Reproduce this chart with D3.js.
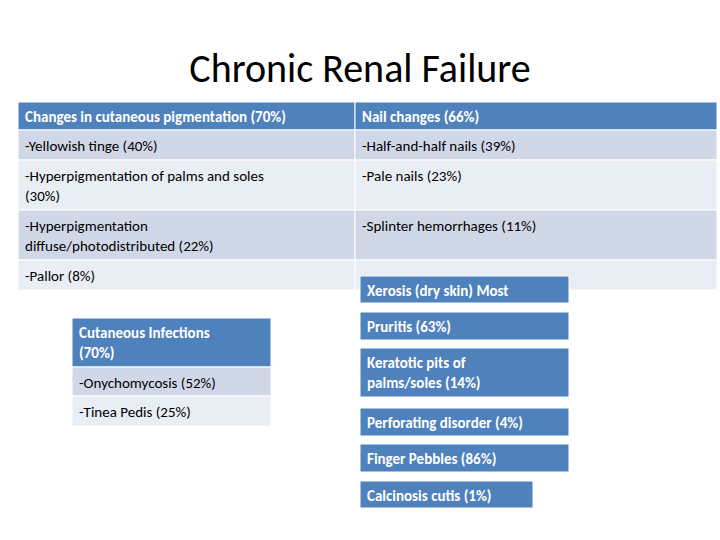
<!DOCTYPE html>
<html><head><meta charset="utf-8">
<script src="https://cdn.jsdelivr.net/npm/d3@7"></script>
<style>body{margin:0;background:#fff}</style>
</head><body>
<svg id="slide" width="720" height="540"></svg>
<script>
// slide content
const title = "Chronic Renal Failure";
const mainHeaders = ["Changes in cutaneous pigmentation (70%)", "Nail changes (66%)"];
const pigmentRows = [["-Yellowish tinge (40%)"], ["-Hyperpigmentation of palms and soles", "(30%)"], ["-Hyperpigmentation", "diffuse/photodistributed (22%)"], ["-Pallor (8%)"]];
const nailRows = [["-Half-and-half nails (39%)"], ["-Pale nails (23%)"], ["-Splinter hemorrhages (11%)"], [""]];
const infectHeader = ["Cutaneous Infections", "(70%)"];
const infectRows = ["-Onychomycosis (52%)", "-Tinea Pedis (25%)"];
const boxLabels = [["Xerosis (dry skin) Most"], ["Pruritis (63%)"], ["Keratotic pits of", "palms/soles (14%)"], ["Perforating disorder (4%)"], ["Finger Pebbles (86%)"], ["Calcinosis cutis (1%)"]];

const font = "Carlito, Lato, 'Open Sans', sans-serif";
const blue = "#4f81bd", dark = "#d0d8e8", light = "#e9edf4";
const svg = d3.select("#slide");

svg.append("text").attr("x", 360).attr("y", 82).attr("text-anchor", "middle")
   .attr("font-family", font).attr("font-size", 40).attr("fill", "#000").text(title);

function lines(g, x, y, arr, opts) {
  arr.forEach((t, i) => {
    g.append("text").attr("x", x).attr("y", y + i * 20)
     .attr("font-family", font).attr("font-size", 15)
     .attr("font-weight", opts.bold ? "bold" : "normal")
     .attr("fill", opts.color).text(t);
  });
}

// main table
const rowY = [102, 130, 160, 210, 260, 290];
const colX = [18, 355, 717];
const main = svg.append("g");
for (let c = 0; c < 2; c++) {
  main.append("rect").attr("x", colX[c]).attr("y", rowY[0]).attr("width", colX[c+1]-colX[c]).attr("height", rowY[1]-rowY[0])
      .attr("fill", blue).attr("stroke", "#fff");
  lines(main, colX[c] + 7, rowY[0] + 20, [mainHeaders[c]], {bold: true, color: "#fff"});
  const data = c === 0 ? pigmentRows : nailRows;
  data.forEach((r, i) => {
    main.append("rect").attr("x", colX[c]).attr("y", rowY[i+1]).attr("width", colX[c+1]-colX[c]).attr("height", rowY[i+2]-rowY[i+1])
        .attr("fill", i % 2 === 0 ? dark : light).attr("stroke", "#fff");
    lines(main, colX[c] + 7, rowY[i+1] + 21, r, {color: "#000"});
  });
}

// infections table
const iy = [318, 367, 396, 426];
const inf = svg.append("g");
inf.append("rect").attr("x", 72).attr("y", iy[0]).attr("width", 199).attr("height", iy[1]-iy[0]).attr("fill", blue).attr("stroke", "#fff");
lines(inf, 79, iy[0] + 20, infectHeader, {bold: true, color: "#fff"});
infectRows.forEach((t, i) => {
  inf.append("rect").attr("x", 72).attr("y", iy[i+1]).attr("width", 199).attr("height", iy[i+2]-iy[i+1])
     .attr("fill", i % 2 === 0 ? dark : light).attr("stroke", "#fff");
  lines(inf, 79, iy[i+1] + 21, [t], {color: "#000"});
});

// blue boxes
const boxY = [[276, 303], [312, 340], [348, 397], [408, 436], [444, 472], [481, 508]];
const boxW = [209, 209, 209, 209, 209, 173];
boxLabels.forEach((l, i) => {
  svg.append("rect").attr("x", 360).attr("y", boxY[i][0]).attr("width", boxW[i]).attr("height", boxY[i][1]-boxY[i][0])
     .attr("fill", blue).attr("stroke", "#fff");
  lines(svg, 367, boxY[i][0] + 20, l, {bold: true, color: "#fff"});
});
</script>
</body></html>
